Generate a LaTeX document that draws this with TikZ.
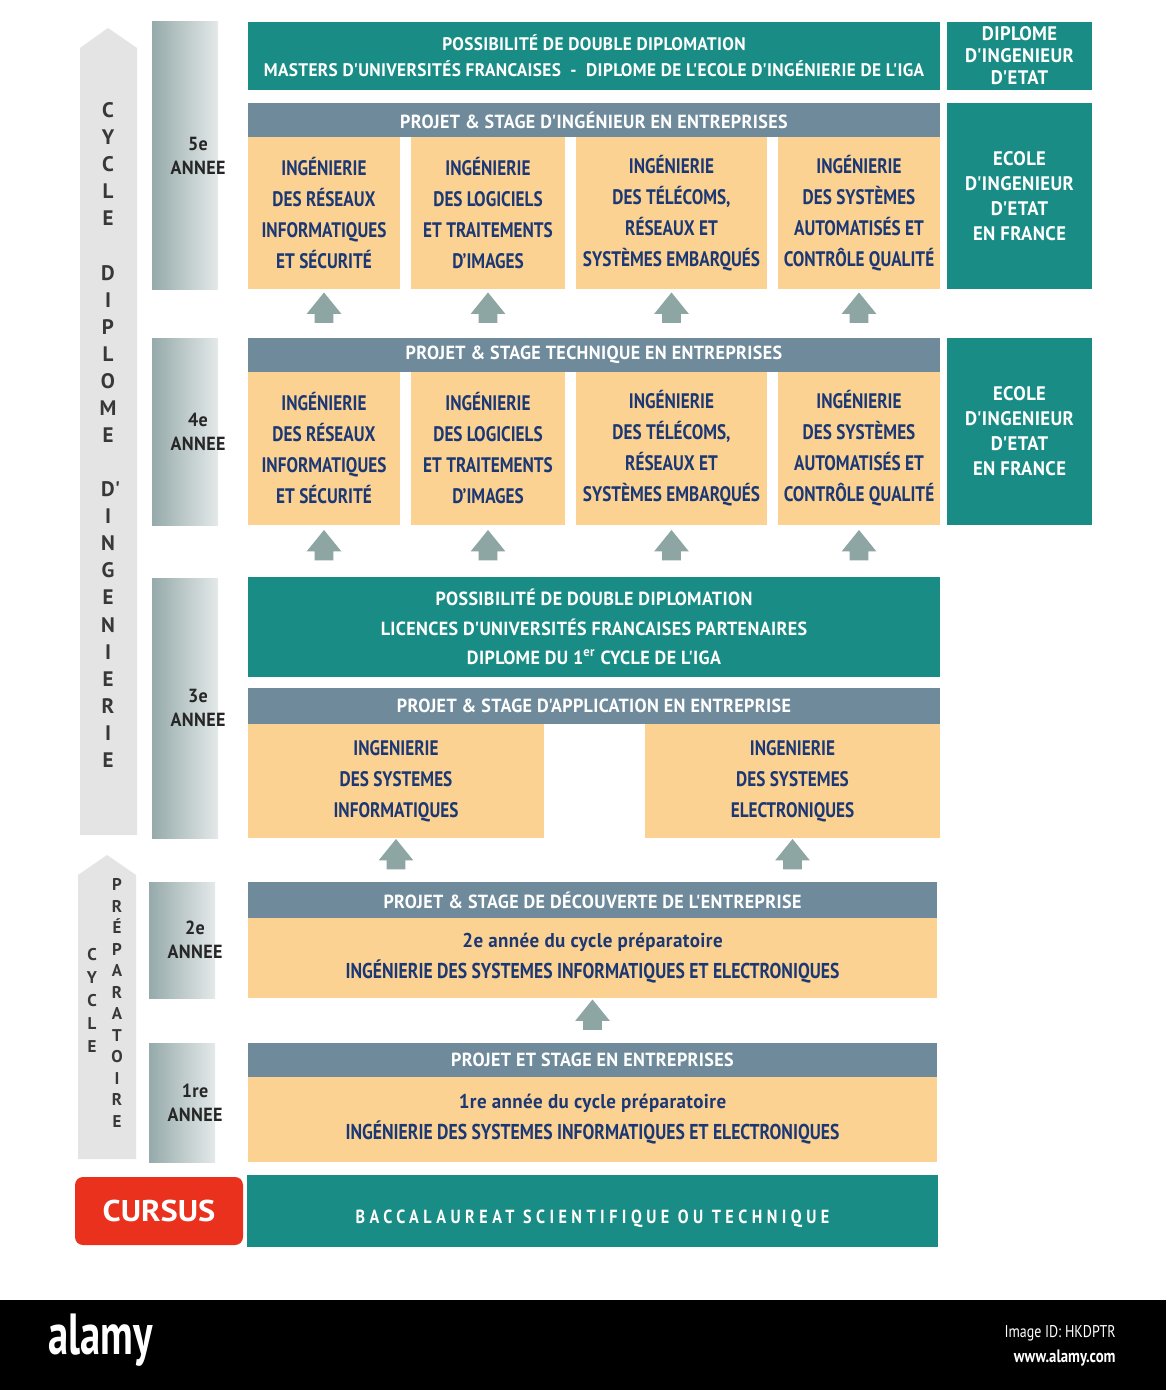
\documentclass[tikz,border=0pt]{standalone}
\usepackage{fontspec}
\setmainfont{PT Sans}[FakeStretch=0.82]
\newfontfamily\fontlarge{PT Sans}
\newfontfamily\fontentete{PT Sans}[FakeStretch=0.95,LetterSpace=2]
\newfontfamily\fontespace{PT Sans}[FakeStretch=0.85,LetterSpace=23.5]
\newfontfamily\fontcursus{PT Sans}[FakeStretch=1.08]
\newfontfamily\fontlogo{PT Sans}[FakeStretch=0.7]
\usetikzlibrary{shapes.arrows,calc}
\definecolor{boiteverte}{RGB}{25,141,133}
\definecolor{boitebandeau}{RGB}{111,139,155}
\definecolor{boiteorange}{RGB}{252,210,146}
\definecolor{textebleu}{RGB}{28,56,116}
\definecolor{boiterouge}{RGB}{233,49,30}
\definecolor{flechecycle}{RGB}{228,228,229}
\definecolor{flecheannee}{RGB}{141,166,164}
\definecolor{anneegauche}{RGB}{150,170,171}
\definecolor{anneedroite}{RGB}{228,233,233}
\newcommand{\boite}[6]{%
  \node[#2, anchor=north west, inner sep=0pt, outer sep=0pt, align=center,
        minimum width=#5*0.5pt, minimum height=#6*0.5pt] (#1) at (#3,#4) }
\tikzset{
  verte/.style={fill=boiteverte, text=white, font=\fontentete\bfseries\fontsize{9.1}{13}\selectfont},
  bandeau/.style={fill=boitebandeau, text=white, font=\fontentete\bfseries\fontsize{9.5}{11}\selectfont},
  caseorange/.style={fill=boiteorange, text=textebleu, font=\bfseries\fontsize{10.5}{15.5}\selectfont},
  annee/.style={left color=anneegauche, right color=anneedroite},
  anneetexte/.style={text=black!85, font=\fontentete\bfseries\fontsize{9.5}{12}\selectfont,
    align=center, inner sep=0pt},
  fleche/.style={single arrow, shape border rotate=90, fill=flecheannee, inner sep=4.5pt,
    minimum height=15pt, single arrow head extend=4pt, single arrow tip angle=78},
  lettres/.style={text=black!78, font=\fontlarge\bfseries\fontsize{10.5}{13.54}\selectfont,
    align=center, inner sep=0pt},
  lettresprep/.style={text=black!78, font=\fontlarge\bfseries\fontsize{8.5}{#1}\selectfont,
    align=center, inner sep=0pt}
}

\begin{document}
\begin{tikzpicture}[x=0.5pt, y=-0.5pt]

\fill[white] (0,0) rectangle (1166,1390);
\useasboundingbox (0,0) rectangle (1166,1390);

\fill[flechecycle] (80,835) -- (80,48) -- (108,28) -- (137,48) -- (137,835) -- cycle;
\fill[flechecycle] (78,1159) -- (78,875) -- (107,855) -- (136,875) -- (136,1159) -- cycle;
\node[lettres] (cycleing) at (108,435)
  {C\\Y\\C\\L\\E\\~\\D\\I\\P\\L\\O\\M\\E\\~\\D\rlap{'}\\I\\N\\G\\E\\N\\I\\E\\R\\I\\E};
\node[lettresprep=11.5pt] (cycleprep) at (92,1000) {C\\Y\\C\\L\\E};
\node[lettresprep=10.75pt] (prepa) at (117,1003) {P\\R\\É\\P\\A\\R\\A\\T\\O\\I\\R\\E};

\boite{an5}{annee}{152}{22}{66}{268} {};
\boite{an4}{annee}{152}{338}{66}{187} {};
\boite{an3}{annee}{152}{578}{66}{260} {};
\boite{an2}{annee}{149}{882}{66}{116} {};
\boite{an1}{annee}{149}{1043}{66}{119} {};
\node[anneetexte] (t5) at ([xshift=6.5pt]an5.center) {5e\\ANNEE};
\node[anneetexte] (t4) at ([xshift=6.5pt]an4.center) {4e\\ANNEE};
\node[anneetexte] (t3) at ([xshift=6.5pt]an3.center) {3e\\ANNEE};
\node[anneetexte] (t2) at ([xshift=6.5pt]an2.center) {2e\\ANNEE};
\node[anneetexte] (t1) at ([xshift=6.5pt]an1.center) {1re\\ANNEE};

\boite{doubleM}{verte}{248}{22}{692}{68}
  {POSSIBILITÉ DE DOUBLE DIPLOMATION\\
   MASTERS D'UNIVERSITÉS FRANCAISES~~-~~DIPLOME DE L'ECOLE D'INGÉNIERIE DE L'IGA};
\boite{diplome}{verte, font=\fontentete\bfseries\fontsize{9.8}{11}\selectfont}{947}{22}{145}{68}
  {DIPLOME\\D'INGENIEUR\\D'ETAT};

\boite{stage5}{bandeau}{248}{103}{692}{34} {PROJET \& STAGE D'INGÉNIEUR EN ENTREPRISES};
\boite{cinqA}{caseorange}{248}{137}{152}{152}
  {INGÉNIERIE\\DES RÉSEAUX\\INFORMATIQUES\\ET SÉCURITÉ};
\boite{cinqB}{caseorange}{411}{137}{154}{152}
  {INGÉNIERIE\\DES LOGICIELS\\ET TRAITEMENTS\\D'IMAGES};
\boite{cinqC}{caseorange}{576}{137}{191}{152}
  {INGÉNIERIE\\DES TÉLÉCOMS,\\RÉSEAUX ET\\SYSTÈMES EMBARQUÉS};
\boite{cinqD}{caseorange}{778}{137}{162}{152}
  {INGÉNIERIE\\DES SYSTÈMES\\AUTOMATISÉS ET\\CONTRÔLE QUALITÉ};
\boite{ecole5}{verte, font=\fontentete\bfseries\fontsize{9.8}{12.5}\selectfont}{947}{103}{145}{186}
  {ECOLE\\D'INGENIEUR\\D'ETAT\\EN FRANCE};

\boite{stage4}{bandeau}{248}{338}{692}{34} {PROJET \& STAGE TECHNIQUE EN ENTREPRISES};
\boite{quatreA}{caseorange}{248}{372}{152}{153}
  {INGÉNIERIE\\DES RÉSEAUX\\INFORMATIQUES\\ET SÉCURITÉ};
\boite{quatreB}{caseorange}{411}{372}{154}{153}
  {INGÉNIERIE\\DES LOGICIELS\\ET TRAITEMENTS\\D'IMAGES};
\boite{quatreC}{caseorange}{576}{372}{191}{153}
  {INGÉNIERIE\\DES TÉLÉCOMS,\\RÉSEAUX ET\\SYSTÈMES EMBARQUÉS};
\boite{quatreD}{caseorange}{778}{372}{162}{153}
  {INGÉNIERIE\\DES SYSTÈMES\\AUTOMATISÉS ET\\CONTRÔLE QUALITÉ};
\boite{ecole4}{verte, font=\fontentete\bfseries\fontsize{9.8}{12.5}\selectfont}{947}{338}{145}{187}
  {ECOLE\\D'INGENIEUR\\D'ETAT\\EN FRANCE};

\boite{double3}{verte, font=\fontentete\bfseries\fontsize{9.5}{14.7}\selectfont}{248}{577}{692}{100}
  {POSSIBILITÉ DE DOUBLE DIPLOMATION\\
   LICENCES D'UNIVERSITÉS FRANCAISES PARTENAIRES\\
   DIPLOME DU 1\textsuperscript{er} CYCLE DE L'IGA};
\boite{stage3}{bandeau}{248}{688}{692}{36} {PROJET \& STAGE D'APPLICATION EN ENTREPRISE};
\boite{troisA}{caseorange}{248}{724}{296}{114} {INGENIERIE\\DES SYSTEMES\\INFORMATIQUES};
\boite{troisB}{caseorange}{645}{724}{295}{114} {INGENIERIE\\DES SYSTEMES\\ELECTRONIQUES};

\boite{stage2}{bandeau}{248}{882}{689}{36} {PROJET \& STAGE DE DÉCOUVERTE DE L'ENTREPRISE};
\boite{deux}{caseorange, font=\bfseries\fontsize{10.75}{15.5}\selectfont}{248}{918}{689}{80}
  {{\fontentete\fontsize{10}{15.5}\selectfont 2e année du cycle préparatoire}\\
   INGÉNIERIE DES SYSTEMES INFORMATIQUES ET ELECTRONIQUES};

\boite{stage1}{bandeau}{248}{1043}{689}{34} {PROJET ET STAGE EN ENTREPRISES};
\boite{un}{caseorange, font=\bfseries\fontsize{10.75}{15.5}\selectfont}{248}{1077}{689}{85}
  {{\fontentete\fontsize{10}{15.5}\selectfont 1re année du cycle préparatoire}\\
   INGÉNIERIE DES SYSTEMES INFORMATIQUES ET ELECTRONIQUES};

\boite{bac}{verte, font=\fontespace\bfseries\fontsize{9.5}{11}\selectfont}{247}{1175}{691}{72}
  {\raisebox{-6.3pt}[0pt][0pt]{BACCALAUREAT SCIENTIFIQUE OU TECHNIQUE}};
\boite{cursus}{fill=boiterouge, text=white, rounded corners=4pt,
  font=\fontcursus\bfseries\fontsize{15}{16}\selectfont}{75}{1177}{168}{68} {CURSUS};

\node[fleche] (fl5a) at ($(cinqA.south)!0.5!(cinqA.south |- stage4.north)$) {};
\node[fleche] (fl5b) at ($(cinqB.south)!0.5!(cinqB.south |- stage4.north)$) {};
\node[fleche] (fl5c) at ($(cinqC.south)!0.5!(cinqC.south |- stage4.north)$) {};
\node[fleche] (fl5d) at ($(cinqD.south)!0.5!(cinqD.south |- stage4.north)$) {};
\node[fleche] (fl4a) at ($(quatreA.south)!0.5!(quatreA.south |- double3.north)$) {};
\node[fleche] (fl4b) at ($(quatreB.south)!0.5!(quatreB.south |- double3.north)$) {};
\node[fleche] (fl4c) at ($(quatreC.south)!0.5!(quatreC.south |- double3.north)$) {};
\node[fleche] (fl4d) at ($(quatreD.south)!0.5!(quatreD.south |- double3.north)$) {};
\node[fleche] (fl3a) at ($(troisA.south)!0.5!(troisA.south |- stage2.north)$) {};
\node[fleche] (fl3b) at ($(troisB.south)!0.5!(troisB.south |- stage2.north)$) {};
\node[fleche] (fl2) at ($(deux.south)!0.5!(deux.south |- stage1.north)$) {};

\fill[black] (0,1300) rectangle (1166,1390);
\node[text=white, font=\fontlogo\bfseries\fontsize{29}{29}\selectfont, anchor=west, inner sep=0pt]
  (alamy) at (48,1340) {alamy};
\node[text=white, font=\fontsize{8.5}{10}\selectfont, anchor=east, inner sep=0pt]
  (imageid) at (1116,1333) {Image ID: HKDPTR};
\node[text=white, font=\bfseries\fontsize{9}{10}\selectfont, anchor=east, inner sep=0pt]
  (site) at (1116,1358) {www.alamy.com};

\end{tikzpicture}
\end{document}
